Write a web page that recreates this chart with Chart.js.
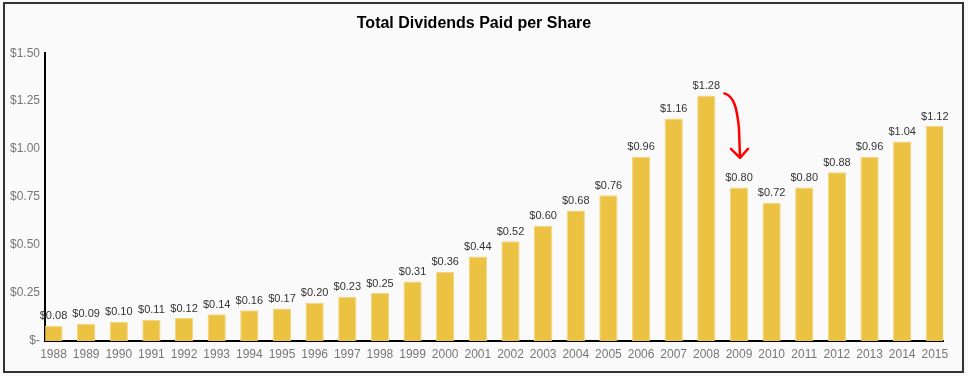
<!DOCTYPE html>
<html>
<head>
<meta charset="utf-8">
<script src="https://cdn.jsdelivr.net/npm/chart.js@4/dist/chart.umd.min.js"></script>
<style>
    html, body { margin: 0; padding: 0; background: #fafafa; }
    #wrap { position: relative; width: 968px; height: 376px; }
    #frame {
        position: absolute; left: 3px; top: 2px; width: 961px; height: 371px;
        box-sizing: border-box; border: 2px solid #333; pointer-events: none;
    }
</style>
</head>
<body>
<div id="wrap">
    <canvas id="divChart" width="968" height="376"></canvas>
    <div id="frame"></div>
</div>
<script>
const years = ['1988', '1989', '1990', '1991', '1992', '1993', '1994', '1995', '1996', '1997',
    '1998', '1999', '2000', '2001', '2002', '2003', '2004', '2005', '2006', '2007',
    '2008', '2009', '2010', '2011', '2012', '2013', '2014', '2015'];
const dividends = [0.08, 0.09, 0.10, 0.11, 0.12, 0.14, 0.16, 0.17, 0.20, 0.23,
    0.25, 0.31, 0.36, 0.44, 0.52, 0.60, 0.68, 0.76, 0.96, 1.16,
    1.28, 0.80, 0.72, 0.80, 0.88, 0.96, 1.04, 1.12];
const yTickLabels = ['$-', '$0.25', '$0.50', '$0.75', '$1.00', '$1.25', '$1.50'];

const barColor = '#ecc242';
const textColor = '#777777';

// value labels above each bar
const valueLabels = {
    id: 'valueLabels',
    afterDatasetsDraw(chart) {
        const ctx = chart.ctx;
        const meta = chart.getDatasetMeta(0);
        ctx.save();
        ctx.font = '11px "Liberation Sans", Arial, sans-serif';
        ctx.fillStyle = '#333';
        ctx.textAlign = 'center';
        ctx.textBaseline = 'bottom';
        meta.data.forEach((bar, i) => {
            ctx.fillText('$' + dividends[i].toFixed(2), bar.x, bar.y - 4);
        });
        ctx.restore();
    }
};

// hand drawn red arrow from 2008 down to 2009
const dropArrow = {
    id: 'dropArrow',
    afterDatasetsDraw(chart) {
        const ctx = chart.ctx;
        const x = chart.scales.x, y = chart.scales.y;
        const i = years.indexOf('2008');
        const x0 = x.getPixelForValue(i) + 18;
        const y0 = y.getPixelForValue(dividends[i]) - 2;
        const x1 = x.getPixelForValue(i + 1) + 1;
        const y1 = y.getPixelForValue(0.96) + 1;
        ctx.save();
        ctx.strokeStyle = '#ff0000';
        ctx.lineWidth = 2.5;
        ctx.lineCap = 'round';
        ctx.lineJoin = 'round';
        ctx.beginPath();
        ctx.moveTo(x0, y0);
        ctx.bezierCurveTo(x0 + 10, y0 + 3, x1 - 3, y0 + 15, x1 - 1, y0 + 35);
        ctx.lineTo(x1, y1);
        ctx.moveTo(x1 - 9, y1 - 9);
        ctx.lineTo(x1, y1);
        ctx.lineTo(x1 + 8, y1 - 9);
        ctx.stroke();
        ctx.restore();
    }
};

new Chart(document.getElementById('divChart').getContext('2d'), {
    type: 'bar',
    data: {
        datasets: [{
            data: dividends.map((v, i) => ({ x: i, y: v })),
            backgroundColor: barColor,
            borderColor: '#f3d685',
            borderWidth: 1,
            borderSkipped: 'bottom',
            barPercentage: 0.56,
            categoryPercentage: 1
        }]
    },
    options: {
        responsive: false,
        animation: false,
        layout: { padding: { left: 5, right: 25, top: 0, bottom: 11 } },
        plugins: {
            legend: { display: false },
            tooltip: { enabled: false },
            title: {
                display: true,
                text: 'Total Dividends Paid per Share',
                color: '#000',
                font: { family: '"Liberation Sans", Arial, sans-serif', size: 16, weight: 'bold' },
                padding: { top: 14, bottom: 20 }
            }
        },
        scales: {
            x: {
                type: 'linear',
                offset: false,
                min: -0.26,
                max: 27.25,
                grid: { display: false, drawTicks: false },
                border: { display: true, color: '#000', width: 2 },
                afterFit(scale) { scale.height = 24; },
                ticks: {
                    stepSize: 1,
                    includeBounds: false,
                    autoSkip: false,
                    maxRotation: 0,
                    padding: 6,
                    color: textColor,
                    font: { family: '"Liberation Sans", Arial, sans-serif', size: 12 },
                    callback: (v) => years[v]
                }
            },
            y: {
                min: 0,
                max: 1.5,
                grid: { display: false, drawTicks: false },
                border: { display: true, color: '#000', width: 2 },
                afterFit(scale) { scale.width = 40; },
                ticks: {
                    stepSize: 0.25,
                    padding: 5,
                    color: textColor,
                    font: { family: '"Liberation Sans", Arial, sans-serif', size: 12 },
                    callback: (v) => yTickLabels[Math.round(v / 0.25)]
                }
            }
        }
    },
    plugins: [valueLabels, dropArrow]
});
</script>
</body>
</html>
